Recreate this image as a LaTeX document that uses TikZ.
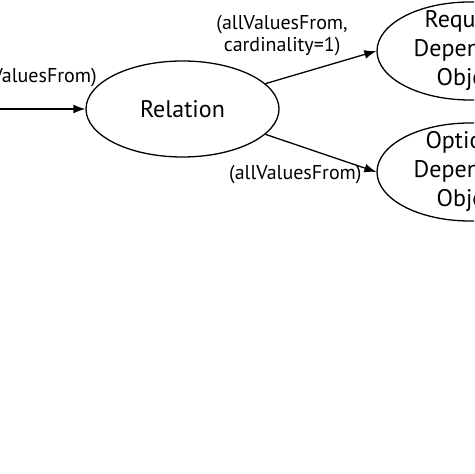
\documentclass[tikz,border=0pt]{standalone}
\usepackage{fontspec}
\setmainfont{PT Sans}
\usetikzlibrary{shapes,positioning,arrows.meta}

\begin{document}
\begin{tikzpicture}[
		x=0.5pt,y=-0.5pt,
		obj/.style={
		  draw,
		  ellipse,
		  line width=0.65pt,
		  inner sep=0pt,
		  align=center,
		  font=\fontsize{12}{14.5}\selectfont
		},
		lbl/.style={
		  inner sep=0pt,
		  align=center,
		  font=\fontsize{10}{11}\selectfont
		},
		link/.style={
		  -{Latex[length=6pt,width=4.5pt]},
		  line width=0.65pt
		}
		]
		\useasboundingbox (0,0) rectangle (474,474);
		\clip (0,0) rectangle (474,474);

		\node[obj,minimum width=96.5pt,minimum height=48pt] at (182.5,109)
		  (relation) {Relation};
		\node[obj,minimum width=93pt,minimum height=49pt,inner ysep=-3.3pt] at (470,51)
		  (req) {Required\\Dependent\\Object};
		\node[obj,minimum width=93pt,minimum height=49pt,inner ysep=-3.3pt] at (470,172)
		  (opt) {Optional\\Dependent\\Object};
		\coordinate (src) at (-40,109);

		\draw[link] (src) -- node[lbl,anchor=south east,pos=1,xshift=6pt,yshift=10.5pt]
		  {(allValuesFrom)} (relation);
		\draw[link] (relation.17) -- node[lbl,above=11pt,pos=0.15]
		  {(allValuesFrom,\\cardinality=1)} (req.west);
		\draw[link] (relation.-17) -- node[lbl,below=10pt,pos=0.27]
		  {(allValuesFrom)} (opt.west);
	\end{tikzpicture}
\end{document}
